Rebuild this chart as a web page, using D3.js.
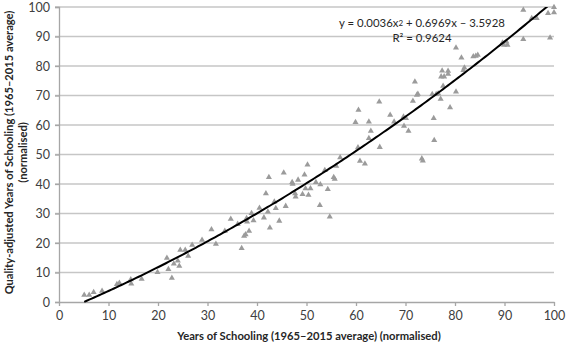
<!DOCTYPE html>
<html>
<head>
<meta charset="utf-8">
<script src="https://cdn.jsdelivr.net/npm/d3@7"></script>
<style>
  body { margin: 0; background: #fff; }
  text { font-family: Lato, "Open Sans", sans-serif; fill: #262626; }
</style>
</head>
<body>
<script>
// Years of schooling (x) and quality-adjusted years (y), both normalised
const schooling = [5.1, 6.1, 7.0, 8.7, 11.7, 12.2, 14.5, 14.6, 16.7, 19.9,
  21.8, 22.1, 22.8, 23.2, 24.0, 24.3, 24.5, 25.5, 26.1, 26.9,
  28.9, 30.8, 31.7, 33.5, 34.7, 36.1, 36.9, 37.4, 37.7, 37.9,
  38.0, 38.4, 38.9, 39.3, 40.5, 41.4, 41.8, 42.2, 42.4, 42.6,
  43.5, 43.8, 44.5, 45.4, 45.8, 47.1, 47.2, 47.7, 47.8, 48.3,
  49.2, 49.6, 49.8, 50.2, 50.4, 50.8, 51.9, 52.7, 52.8, 53.7,
  54.3, 54.7, 55.5, 55.7, 56.0, 56.8, 59.9, 60.4, 60.5, 60.8,
  61.8, 62.6, 62.6, 63.0, 64.7, 64.8, 66.9, 67.7, 69.6, 69.7,
  70.1, 70.6, 71.5, 71.9, 72.3, 72.5, 73.3, 73.5, 75.4, 76.2,
  76.6, 75.7, 75.8, 77.1, 77.6, 77.2, 77.8, 77.4, 78.6, 78.6,
  79.0, 80.2, 80.2, 81.3, 81.7, 81.9, 83.7, 84.2, 84.6, 89.6,
  89.9, 90.6, 90.4, 93.8, 93.8, 95.5, 96.5, 98.8, 99.2, 100.0, 100.0];
const qualityAdj = [2.4, 2.4, 3.3, 3.7, 6.0, 6.4, 7.6, 6.2, 7.8, 10.1,
  14.9, 11.1, 8.1, 13.0, 14.0, 12.2, 17.6, 17.6, 15.6, 19.3,
  21.0, 24.6, 19.7, 24.1, 28.1, 26.4, 18.2, 22.4, 22.9, 28.4,
  27.2, 24.1, 30.1, 27.6, 31.9, 28.6, 36.8, 30.6, 42.3, 25.2,
  34.0, 31.8, 27.5, 43.8, 32.5, 40.6, 40.0, 36.8, 35.7, 41.4,
  36.5, 43.1, 38.5, 46.5, 36.3, 38.5, 40.6, 32.8, 39.8, 44.7,
  38.2, 28.9, 42.3, 41.7, 46.1, 49.0, 60.9, 52.4, 65.1, 47.8,
  46.9, 61.1, 55.5, 58.0, 67.9, 52.5, 63.4, 61.1, 62.8, 59.7,
  62.3, 58.0, 68.1, 74.7, 70.2, 70.5, 48.6, 47.9, 70.4, 70.4,
  70.7, 62.3, 54.8, 68.8, 73.2, 76.4, 76.4, 78.4, 78.3, 77.3,
  65.9, 86.2, 71.3, 82.8, 78.6, 79.4, 83.2, 83.4, 83.7, 87.9,
  87.1, 87.1, 88.2, 99.0, 89.1, 96.2, 96.2, 97.9, 89.6, 99.9, 98.1];

const xTicks = [0, 10, 20, 30, 40, 50, 60, 70, 80, 90, 100];
const yTicks = [0, 10, 20, 30, 40, 50, 60, 70, 80, 90, 100];
const fitCoef = [0.0036, 0.6969, -3.5928];   // a, b, c
const fitR2 = "0.9624";

const width = 566, height = 350;
const margin = {top: 7, right: 12, bottom: 48, left: 59};
const iw = width - margin.left - margin.right;
const ih = height - margin.top - margin.bottom;

const svg = d3.select("body").append("svg")
  .attr("width", width).attr("height", height);

// shrink/grow a text's font so it spans about the width seen in the picture
function fitWidth(sel, target) {
  const fs = +sel.attr("font-size");
  const w = sel.node().getComputedTextLength();
  sel.attr("font-size", (fs * target / w).toFixed(2));
}

const x = d3.scaleLinear().domain([0, 100]).range([0, iw]);
const y = d3.scaleLinear().domain([0, 100]).range([ih, 0]);

const g = svg.append("g").attr("transform", `translate(${margin.left},${margin.top})`);

// gridlines
g.append("g")
  .selectAll("line")
  .data(yTicks.filter(d => d > 0))
  .join("line")
  .attr("x1", -4).attr("x2", iw)
  .attr("y1", d => y(d)).attr("y2", d => y(d))
  .attr("stroke", "#c6c6c6").attr("stroke-width", 1.3);

// y axis
const yAxis = g.append("g")
  .call(d3.axisLeft(y).tickValues(yTicks).tickSize(4).tickPadding(5));
yAxis.select(".domain").attr("stroke", "#a6a6a6").attr("stroke-width", 1.3);
yAxis.selectAll(".tick line").attr("stroke", "#a6a6a6").attr("stroke-width", 1.3);
yAxis.selectAll("text").attr("font-size", 12.5).style("fill", "#404040");

// x axis
const xAxis = g.append("g")
  .attr("transform", `translate(0,${ih})`)
  .call(d3.axisBottom(x).tickValues(xTicks).tickSize(4).tickPadding(5).tickSizeOuter(0));
xAxis.select(".domain").attr("stroke", "#a6a6a6").attr("stroke-width", 1.3);
xAxis.selectAll(".tick line").attr("stroke", "#a6a6a6").attr("stroke-width", 1.3);
xAxis.selectAll("text").attr("font-size", 12.5).style("fill", "#404040");

// points
const pts = schooling.map((d, i) => ({x: d, y: qualityAdj[i]}));
g.append("g")
  .selectAll("path")
  .data(pts)
  .join("path")
  .attr("transform", d => `translate(${x(d.x)},${y(d.y)})`)
  .attr("d", d3.symbol(d3.symbolTriangle, 16))
  .attr("fill", "#9b9b9b");

// polynomial trendline, clipped to the plot like the original
g.append("clipPath").attr("id", "plotClip")
  .append("rect").attr("width", iw).attr("height", ih + 1);

const [a, b, c] = fitCoef;
const xmin = d3.min(schooling), xmax = d3.max(schooling);
const fitPts = d3.range(xmin, xmax + 0.001, 0.5).map(v => [v, a * v * v + b * v + c]);
g.append("path")
  .datum(fitPts)
  .attr("clip-path", "url(#plotClip)")
  .attr("fill", "none")
  .attr("stroke", "#000")
  .attr("stroke-width", 2)
  .attr("d", d3.line().x(d => x(d[0])).y(d => y(d[1])));

// equation label
const eq = svg.append("text")
  .attr("x", 422).attr("y", 27)
  .attr("text-anchor", "middle")
  .attr("font-size", 13);
eq.append("tspan").text(`y = ${a}x`);
eq.append("tspan").attr("font-size", "0.7em").attr("dy", -1).text("2");
eq.append("tspan").attr("dy", 1).text(` + ${b}x \u2013 ${Math.abs(c)}`);
fitWidth(eq, 166);

const r2 = svg.append("text")
  .attr("x", 422).attr("y", 42)
  .attr("text-anchor", "middle")
  .attr("font-size", eq.attr("font-size"))
  .text(`R\u00b2 = ${fitR2}`);

// axis titles
const xt = svg.append("text")
  .attr("x", 309).attr("y", 340)
  .attr("text-anchor", "middle")
  .attr("font-size", 12).attr("font-weight", "bold")
  .text("Years of Schooling (1965\u20132015 average) (normalised)");
fitWidth(xt, 264);

const yt = svg.append("g")
  .attr("transform", `translate(0,152.5) rotate(-90)`);
const yt1 = yt.append("text")
  .attr("x", 0).attr("y", 13)
  .attr("text-anchor", "middle")
  .attr("font-size", 12).attr("font-weight", "bold")
  .text("Quality-adjusted Years of Schooling (1965\u20132015 average)");
fitWidth(yt1, 284);
yt.append("text")
  .attr("x", 0).attr("y", 27)
  .attr("text-anchor", "middle")
  .attr("font-size", yt1.attr("font-size")).attr("font-weight", "bold")
  .text("(normalised)");
</script>
</body>
</html>
